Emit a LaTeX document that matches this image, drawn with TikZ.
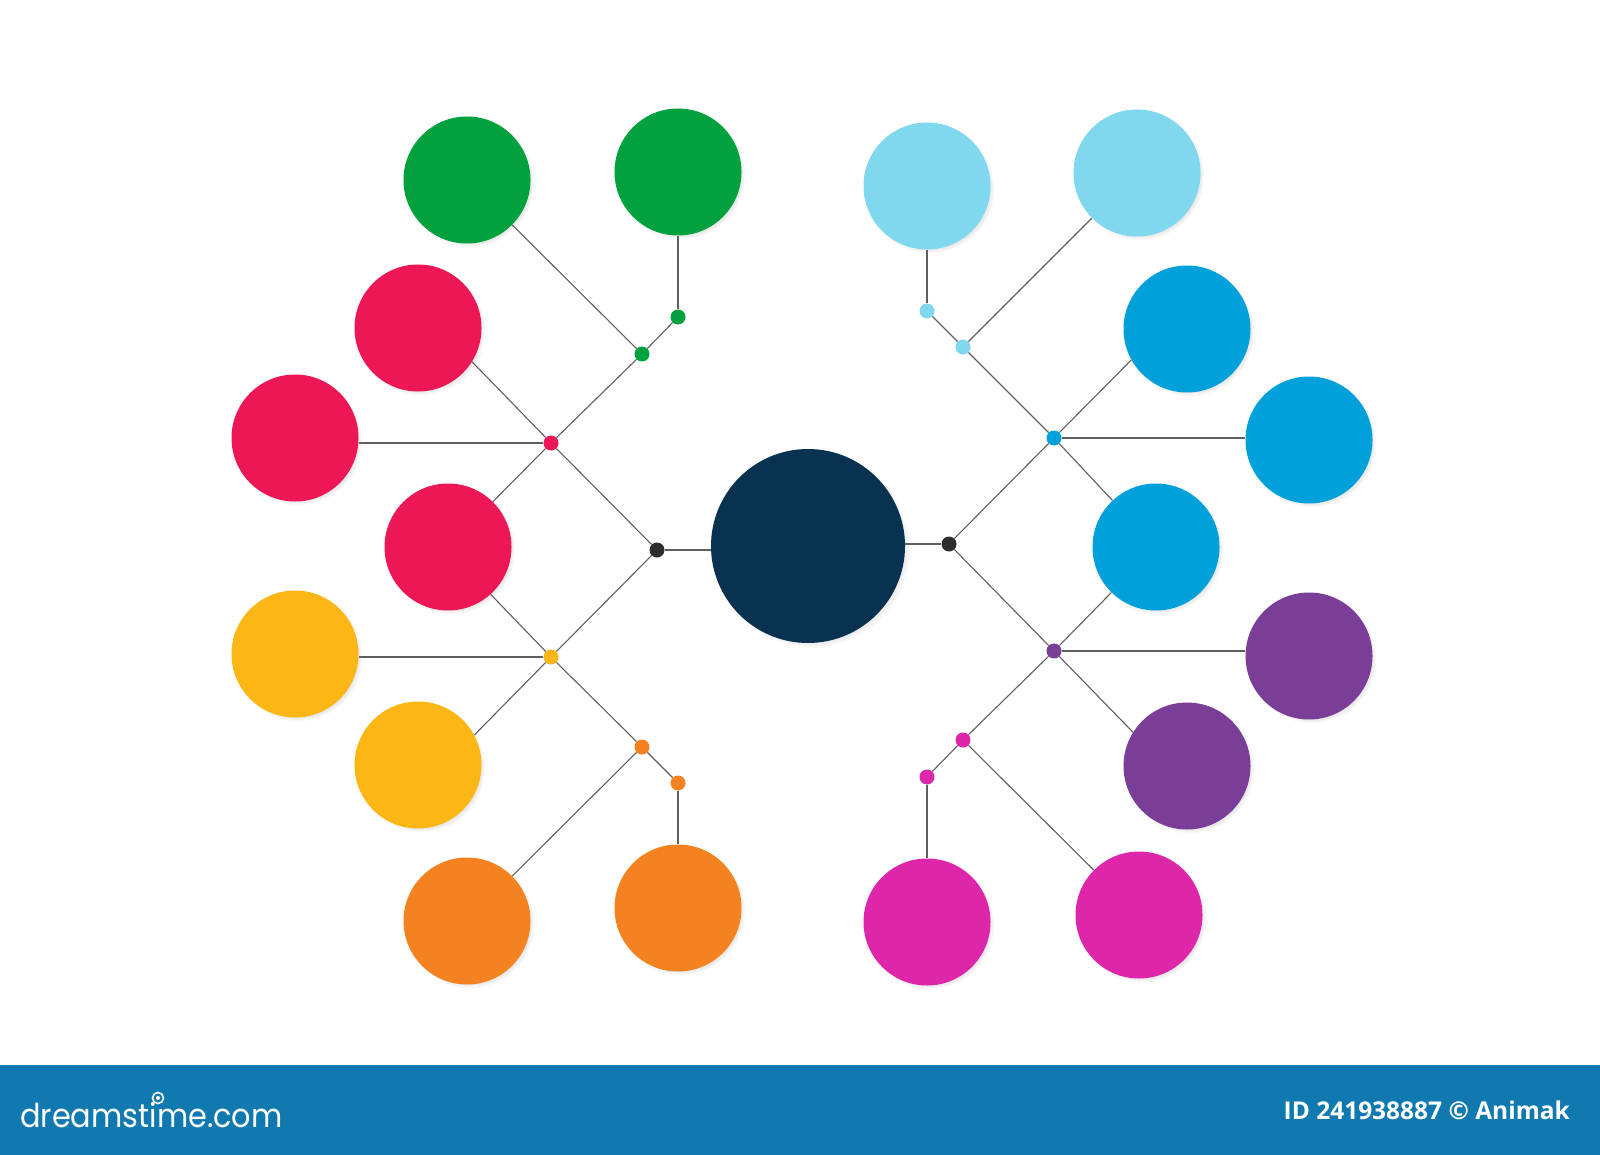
\documentclass[tikz,border=0pt]{standalone}
\usepackage{fontspec}
\newfontfamily\poppins{Poppins}
\newfontfamily\opensans{Open Sans}
\usetikzlibrary{shadows,backgrounds}
\definecolor{cgreen}{RGB}{0,161,62}
\definecolor{cred}{RGB}{237,23,85}
\definecolor{cyellow}{RGB}{252,183,23}
\definecolor{corange}{RGB}{244,130,32}
\definecolor{clight}{RGB}{128,216,238}
\definecolor{cblue}{RGB}{0,160,218}
\definecolor{cpurple}{RGB}{123,62,152}
\definecolor{cmag}{RGB}{221,38,170}
\definecolor{cnavy}{RGB}{8,50,80}
\definecolor{cdark}{RGB}{45,45,45}
\definecolor{cline}{RGB}{95,95,95}
\definecolor{cband}{RGB}{16,121,176}
\tikzset{
  bub/.style={circle, minimum size=127pt, inner sep=0pt, draw=none,
    circular drop shadow={shadow scale=1.02, shadow xshift=2.5pt, shadow yshift=-2.5pt, opacity=0.35}},
  hub/.style={circle, minimum size=194pt, inner sep=0pt, draw=none, fill=cnavy,
    circular drop shadow={shadow scale=1.02, shadow xshift=3pt, shadow yshift=-3pt, opacity=0.35}},
  jdot/.style={circle, minimum size=15pt, inner sep=0pt, draw=none},
  link/.style={draw=cline, line width=1.1pt},
}
\begin{document}
\begin{tikzpicture}[x=1pt,y=-1pt]
\useasboundingbox (0,0) rectangle (1600,1155);
\begin{scope}[on background layer]
  \fill[white] (0,0) rectangle (1600,1155);
\end{scope}
\fill[cband] (0,1065) rectangle (1600,1155);

% centre
\node[hub] (cc) at (808,546) {};
\node[jdot, fill=cdark] (bl) at (657,550) {};
\node[jdot, fill=cdark] (br) at (949,544) {};

% left side
\node[bub, fill=cgreen] (g1) at (467,180) {};
\node[bub, fill=cgreen] (g2) at (678,172) {};
\node[jdot, fill=cgreen] (gs) at (678,317) {};
\node[jdot, fill=cgreen] (gj) at (642,354) {};
\node[bub, fill=cred] (r1) at (418,328) {};
\node[bub, fill=cred] (r2) at (295,438) {};
\node[bub, fill=cred] (r3) at (448,547) {};
\node[jdot, fill=cred] (rj) at (551,443) {};
\node[bub, fill=cyellow] (y1) at (295,654) {};
\node[bub, fill=cyellow] (y2) at (418,765) {};
\node[jdot, fill=cyellow] (yj) at (551,657) {};
\node[bub, fill=corange] (o1) at (467,921) {};
\node[bub, fill=corange] (o2) at (678,908) {};
\node[jdot, fill=corange] (oj) at (642,747) {};
\node[jdot, fill=corange] (os) at (678,783) {};

% right side
\node[bub, fill=clight] (l1) at (927,186) {};
\node[bub, fill=clight] (l2) at (1137,173) {};
\node[jdot, fill=clight] (ls) at (927,311) {};
\node[jdot, fill=clight] (lj) at (963,347) {};
\node[bub, fill=cblue] (b1) at (1187,329) {};
\node[bub, fill=cblue] (b2) at (1309,440) {};
\node[bub, fill=cblue] (b3) at (1156,547) {};
\node[jdot, fill=cblue] (bj) at (1054,438) {};
\node[bub, fill=cpurple] (p1) at (1309,656) {};
\node[bub, fill=cpurple] (p2) at (1187,766) {};
\node[jdot, fill=cpurple] (pj) at (1054,651) {};
\node[bub, fill=cmag] (m1) at (927,922) {};
\node[bub, fill=cmag] (m2) at (1139,915) {};
\node[jdot, fill=cmag] (mj) at (963,740) {};
\node[jdot, fill=cmag] (ms) at (927,777) {};

\begin{scope}[on background layer]
  % left connectors
  \draw[link] (bl) -- (bl -| cc.west);
  \draw[link] (bl) -- (rj);
  \draw[link] (bl) -- (yj);
  \draw[link] (rj) -- (gj);
  \draw[link] (gj) -- (gs);
  \draw[link] (gs) -- (g2);
  \draw[link] (gj) -- (g1);
  \draw[link] (rj) -- (r1.-32);
  \draw[link] (rj) -- (rj -| r2.east);
  \draw[link] (rj) -- (r3);
  \draw[link] (yj) -- (r3.-48);
  \draw[link] (yj) -- (yj -| y1.east);
  \draw[link] (yj) -- (y2.28);
  \draw[link] (yj) -- (oj);
  \draw[link] (oj) -- (os);
  \draw[link] (os) -- (o2);
  \draw[link] (oj) -- (o1);
  % right connectors
  \draw[link] (br) -- (br -| cc.east);
  \draw[link] (br) -- (bj);
  \draw[link] (br) -- (pj);
  \draw[link] (bj) -- (lj);
  \draw[link] (lj) -- (ls);
  \draw[link] (ls) -- (l1);
  \draw[link] (lj) -- (l2);
  \draw[link] (bj) -- (b1.209);
  \draw[link] (bj) -- (bj -| b2.west);
  \draw[link] (bj) -- (b3);
  \draw[link] (pj) -- (b3);
  \draw[link] (pj) -- (pj -| p1.west);
  \draw[link] (pj) -- (p2.148);
  \draw[link] (pj) -- (mj);
  \draw[link] (mj) -- (ms);
  \draw[link] (ms) -- (m1);
  \draw[link] (mj) -- (m2);
\end{scope}

% footer band texts
\node[anchor=base west, inner sep=0pt, text=white, xscale=0.92,
      font=\poppins\fontsize{33}{33}\selectfont] (dt) at (20,1127) {dreamstime.com};
\draw[white, line width=1.6pt] (158,1098) circle (5.5pt);
\fill[white] (158,1098) circle (2pt);
\node[anchor=base east, inner sep=0pt, text=white,
      font=\opensans\bfseries\fontsize{24.5}{24.5}\selectfont] (idt) at (1570,1119) {ID 241938887 © Animak};
\end{tikzpicture}
\end{document}
